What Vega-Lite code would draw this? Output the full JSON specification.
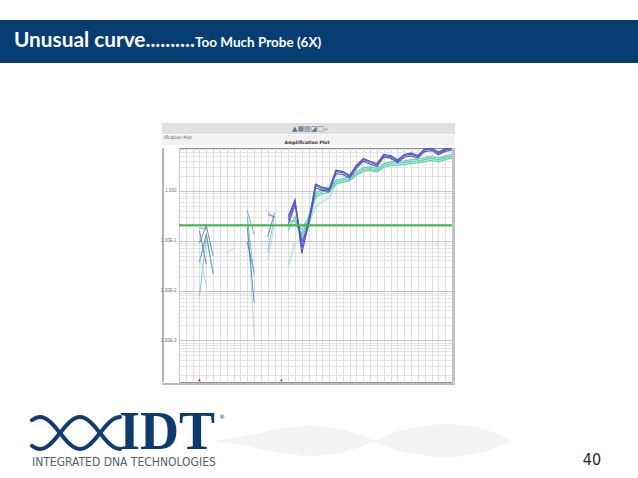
{
  "$schema": "https://vega.github.io/schema/vega-lite/v6.json",
  "background": "white",
  "padding": {"top": 20, "left": 0, "right": 0, "bottom": 0},
  "spacing": 0,
  "bounds": "full",
  "config": {"view": {"stroke": null}, "concat": {"spacing": 0}},
  "datasets": {
    "curves": [
      {"s":"a1","g":"np","c":3,"v":0.18},{"s":"a1","g":"np","c":4,"v":0.172},
      {"s":"a2","g":"nb","c":3,"v":0.157},{"s":"a2","g":"nb","c":4,"v":0.034},
      {"s":"a3","g":"nb","c":3,"v":0.037},{"s":"a3","g":"nb","c":4,"v":0.136},{"s":"a3","g":"nb","c":5,"v":0.0214},
      {"s":"a4","g":"nt","c":3,"v":0.0077},{"s":"a4","g":"nt","c":4,"v":0.119},{"s":"a4","g":"nt","c":5,"v":0.0235},
      {"s":"a5","g":"ntl","c":3,"v":0.05},{"s":"a5","g":"ntl","c":4,"v":0.0128},
      {"s":"a6","g":"nb","c":3,"v":0.09},{"s":"a6","g":"nb","c":4,"v":0.2},{"s":"a6","g":"nb","c":5,"v":0.05},
      {"s":"b1","g":"ntl","c":7,"v":0.059},{"s":"b1","g":"ntl","c":8,"v":0.068},
      {"s":"c1","g":"ntl","c":10,"v":0.434},{"s":"c1","g":"ntl","c":11,"v":0.00115},
      {"s":"c2","g":"np","c":10,"v":0.396},{"s":"c2","g":"np","c":11,"v":0.136},
      {"s":"c3","g":"nb","c":10,"v":0.189},{"s":"c3","g":"nb","c":11,"v":0.00585},
      {"s":"c4","g":"nb","c":10,"v":0.094},{"s":"c4","g":"nb","c":11,"v":0.0235},
      {"s":"c5","g":"nt","c":10,"v":0.3},{"s":"c5","g":"nt","c":11,"v":0.02},
      {"s":"d1","g":"np","c":13,"v":0.33},{"s":"d1","g":"np","c":14,"v":0.3},
      {"s":"d2","g":"nt","c":13,"v":0.059},{"s":"d2","g":"nt","c":14,"v":0.31},
      {"s":"d3","g":"nb","c":13,"v":0.12},{"s":"d3","g":"nb","c":14,"v":0.36},
      {"s":"d4","g":"ntl","c":13,"v":0.04},{"s":"d4","g":"ntl","c":14,"v":0.2},
      {"s":"d5","g":"np","c":13,"v":0.37},{"s":"d5","g":"np","c":14,"v":0.29},

      {"s":"vicl","g":"vicl","c":16,"v":0.03},{"s":"vicl","g":"vicl","c":17,"v":0.094},{"s":"vicl","g":"vicl","c":18,"v":0.104},{"s":"vicl","g":"vicl","c":19,"v":0.22},{"s":"vicl","g":"vicl","c":20,"v":0.48},{"s":"vicl","g":"vicl","c":21,"v":0.6},{"s":"vicl","g":"vicl","c":22,"v":0.72},{"s":"vicl","g":"vicl","c":23,"v":1.32},{"s":"vicl","g":"vicl","c":24,"v":1.52},{"s":"vicl","g":"vicl","c":25,"v":1.7},{"s":"vicl","g":"vicl","c":26,"v":2.1},{"s":"vicl","g":"vicl","c":27,"v":2.55},{"s":"vicl","g":"vicl","c":28,"v":2.7},{"s":"vicl","g":"vicl","c":29,"v":2.5},{"s":"vicl","g":"vicl","c":30,"v":3.1},{"s":"vicl","g":"vicl","c":31,"v":3.4},{"s":"vicl","g":"vicl","c":32,"v":3.5},{"s":"vicl","g":"vicl","c":33,"v":3.6},{"s":"vicl","g":"vicl","c":34,"v":3.75},{"s":"vicl","g":"vicl","c":35,"v":3.9},{"s":"vicl","g":"vicl","c":36,"v":4.1},{"s":"vicl","g":"vicl","c":37,"v":4.35},{"s":"vicl","g":"vicl","c":38,"v":4.05},{"s":"vicl","g":"vicl","c":39,"v":4.5},{"s":"vicl","g":"vicl","c":40,"v":4.85},

      {"s":"vic2","g":"vic","c":16,"v":0.16},{"s":"vic2","g":"vic","c":17,"v":0.3},{"s":"vic2","g":"vic","c":18,"v":0.12},{"s":"vic2","g":"vic","c":19,"v":0.23},{"s":"vic2","g":"vic","c":20,"v":0.74},{"s":"vic2","g":"vic","c":21,"v":0.87},{"s":"vic2","g":"vic","c":22,"v":0.94},{"s":"vic2","g":"vic","c":23,"v":1.38},{"s":"vic2","g":"vic","c":24,"v":1.49},{"s":"vic2","g":"vic","c":25,"v":1.6},{"s":"vic2","g":"vic","c":26,"v":2.02},{"s":"vic2","g":"vic","c":27,"v":2.43},{"s":"vic2","g":"vic","c":28,"v":2.55},{"s":"vic2","g":"vic","c":29,"v":2.36},{"s":"vic2","g":"vic","c":30,"v":2.96},{"s":"vic2","g":"vic","c":31,"v":3.2},{"s":"vic2","g":"vic","c":32,"v":3.28},{"s":"vic2","g":"vic","c":33,"v":3.35},{"s":"vic2","g":"vic","c":34,"v":3.5},{"s":"vic2","g":"vic","c":35,"v":3.62},{"s":"vic2","g":"vic","c":36,"v":3.85},{"s":"vic2","g":"vic","c":37,"v":4.08},{"s":"vic2","g":"vic","c":38,"v":3.8},{"s":"vic2","g":"vic","c":39,"v":4.2},{"s":"vic2","g":"vic","c":40,"v":4.52},

      {"s":"vic1","g":"vic","c":16,"v":0.193},{"s":"vic1","g":"vic","c":17,"v":0.212},{"s":"vic1","g":"vic","c":18,"v":0.14},{"s":"vic1","g":"vic","c":19,"v":0.258},{"s":"vic1","g":"vic","c":20,"v":0.817},{"s":"vic1","g":"vic","c":21,"v":0.955},{"s":"vic1","g":"vic","c":22,"v":1.03},{"s":"vic1","g":"vic","c":23,"v":1.51},{"s":"vic1","g":"vic","c":24,"v":1.63},{"s":"vic1","g":"vic","c":25,"v":1.76},{"s":"vic1","g":"vic","c":26,"v":2.22},{"s":"vic1","g":"vic","c":27,"v":2.67},{"s":"vic1","g":"vic","c":28,"v":2.79},{"s":"vic1","g":"vic","c":29,"v":2.58},{"s":"vic1","g":"vic","c":30,"v":3.25},{"s":"vic1","g":"vic","c":31,"v":3.52},{"s":"vic1","g":"vic","c":32,"v":3.6},{"s":"vic1","g":"vic","c":33,"v":3.68},{"s":"vic1","g":"vic","c":34,"v":3.85},{"s":"vic1","g":"vic","c":35,"v":3.98},{"s":"vic1","g":"vic","c":36,"v":4.23},{"s":"vic1","g":"vic","c":37,"v":4.49},{"s":"vic1","g":"vic","c":38,"v":4.17},{"s":"vic1","g":"vic","c":39,"v":4.63},{"s":"vic1","g":"vic","c":40,"v":4.97},

      {"s":"vic3","g":"vic","c":16,"v":0.24},{"s":"vic3","g":"vic","c":17,"v":0.25},{"s":"vic3","g":"vic","c":18,"v":0.17},{"s":"vic3","g":"vic","c":19,"v":0.3},{"s":"vic3","g":"vic","c":20,"v":0.9},{"s":"vic3","g":"vic","c":21,"v":1.04},{"s":"vic3","g":"vic","c":22,"v":1.12},{"s":"vic3","g":"vic","c":23,"v":1.64},{"s":"vic3","g":"vic","c":24,"v":1.76},{"s":"vic3","g":"vic","c":25,"v":1.9},{"s":"vic3","g":"vic","c":26,"v":2.4},{"s":"vic3","g":"vic","c":27,"v":2.88},{"s":"vic3","g":"vic","c":28,"v":3.0},{"s":"vic3","g":"vic","c":29,"v":2.8},{"s":"vic3","g":"vic","c":30,"v":3.5},{"s":"vic3","g":"vic","c":31,"v":3.8},{"s":"vic3","g":"vic","c":32,"v":3.88},{"s":"vic3","g":"vic","c":33,"v":3.97},{"s":"vic3","g":"vic","c":34,"v":4.15},{"s":"vic3","g":"vic","c":35,"v":4.3},{"s":"vic3","g":"vic","c":36,"v":4.55},{"s":"vic3","g":"vic","c":37,"v":4.85},{"s":"vic3","g":"vic","c":38,"v":4.5},{"s":"vic3","g":"vic","c":39,"v":5.0},{"s":"vic3","g":"vic","c":40,"v":5.35},

      {"s":"fam2","g":"fam","c":16,"v":0.21},{"s":"fam2","g":"fam","c":17,"v":0.52},{"s":"fam2","g":"fam","c":18,"v":0.095},{"s":"fam2","g":"fam","c":19,"v":0.2},{"s":"fam2","g":"fam","c":20,"v":1.15},{"s":"fam2","g":"fam","c":21,"v":1.02},{"s":"fam2","g":"fam","c":22,"v":0.97},{"s":"fam2","g":"fam","c":23,"v":2.2},{"s":"fam2","g":"fam","c":24,"v":2.12},{"s":"fam2","g":"fam","c":25,"v":1.8},{"s":"fam2","g":"fam","c":26,"v":2.8},{"s":"fam2","g":"fam","c":27,"v":3.9},{"s":"fam2","g":"fam","c":28,"v":3.4},{"s":"fam2","g":"fam","c":29,"v":3.05},{"s":"fam2","g":"fam","c":30,"v":4.7},{"s":"fam2","g":"fam","c":31,"v":4.5},{"s":"fam2","g":"fam","c":32,"v":3.7},{"s":"fam2","g":"fam","c":33,"v":4.7},{"s":"fam2","g":"fam","c":34,"v":5.0},{"s":"fam2","g":"fam","c":35,"v":4.5},{"s":"fam2","g":"fam","c":36,"v":6.1},{"s":"fam2","g":"fam","c":37,"v":6.4},{"s":"fam2","g":"fam","c":38,"v":5.25},{"s":"fam2","g":"fam","c":39,"v":6.15},{"s":"fam2","g":"fam","c":40,"v":6.5},

      {"s":"fam1","g":"fam","c":16,"v":0.255},{"s":"fam1","g":"fam","c":17,"v":0.611},{"s":"fam1","g":"fam","c":18,"v":0.0557},{"s":"fam1","g":"fam","c":19,"v":0.222},{"s":"fam1","g":"fam","c":20,"v":1.28},{"s":"fam1","g":"fam","c":21,"v":1.11},{"s":"fam1","g":"fam","c":22,"v":1.04},{"s":"fam1","g":"fam","c":23,"v":2.43},{"s":"fam1","g":"fam","c":24,"v":2.32},{"s":"fam1","g":"fam","c":25,"v":1.93},{"s":"fam1","g":"fam","c":26,"v":3.06},{"s":"fam1","g":"fam","c":27,"v":4.23},{"s":"fam1","g":"fam","c":28,"v":3.68},{"s":"fam1","g":"fam","c":29,"v":3.28},{"s":"fam1","g":"fam","c":30,"v":5.08},{"s":"fam1","g":"fam","c":31,"v":4.85},{"s":"fam1","g":"fam","c":32,"v":3.95},{"s":"fam1","g":"fam","c":33,"v":5.08},{"s":"fam1","g":"fam","c":34,"v":5.44},{"s":"fam1","g":"fam","c":35,"v":4.85},{"s":"fam1","g":"fam","c":36,"v":6.6},{"s":"fam1","g":"fam","c":37,"v":6.9},{"s":"fam1","g":"fam","c":38,"v":5.65},{"s":"fam1","g":"fam","c":39,"v":6.6},{"s":"fam1","g":"fam","c":40,"v":6.95},

      {"s":"fam3","g":"fam","c":16,"v":0.3},{"s":"fam3","g":"fam","c":17,"v":0.66},{"s":"fam3","g":"fam","c":18,"v":0.072},{"s":"fam3","g":"fam","c":19,"v":0.25},{"s":"fam3","g":"fam","c":20,"v":1.36},{"s":"fam3","g":"fam","c":21,"v":1.18},{"s":"fam3","g":"fam","c":22,"v":1.1},{"s":"fam3","g":"fam","c":23,"v":2.58},{"s":"fam3","g":"fam","c":24,"v":2.45},{"s":"fam3","g":"fam","c":25,"v":2.05},{"s":"fam3","g":"fam","c":26,"v":3.25},{"s":"fam3","g":"fam","c":27,"v":4.45},{"s":"fam3","g":"fam","c":28,"v":3.9},{"s":"fam3","g":"fam","c":29,"v":3.5},{"s":"fam3","g":"fam","c":30,"v":5.35},{"s":"fam3","g":"fam","c":31,"v":5.1},{"s":"fam3","g":"fam","c":32,"v":4.2},{"s":"fam3","g":"fam","c":33,"v":5.35},{"s":"fam3","g":"fam","c":34,"v":5.75},{"s":"fam3","g":"fam","c":35,"v":5.1},{"s":"fam3","g":"fam","c":36,"v":6.9},{"s":"fam3","g":"fam","c":37,"v":7.1},{"s":"fam3","g":"fam","c":38,"v":5.95},{"s":"fam3","g":"fam","c":39,"v":6.9},{"s":"fam3","g":"fam","c":40,"v":7.1}
    ],
    "helix": [
      {"k":"a","x":32,"y":419.1},{"k":"a","x":36,"y":416.8},{"k":"a","x":40,"y":416},{"k":"a","x":45,"y":417.2},{"k":"a","x":50,"y":420.7},{"k":"a","x":55,"y":425.9},{"k":"a","x":60,"y":432},{"k":"a","x":65,"y":438.1},{"k":"a","x":70,"y":443.3},{"k":"a","x":75,"y":446.8},{"k":"a","x":80,"y":448},{"k":"a","x":85,"y":446.8},{"k":"a","x":90,"y":443.3},{"k":"a","x":95,"y":438.1},{"k":"a","x":100,"y":432},{"k":"a","x":105,"y":425.9},{"k":"a","x":110,"y":420.7},{"k":"a","x":115,"y":417.2},{"k":"a","x":120,"y":416},
      {"k":"b","x":32,"y":444.9},{"k":"b","x":36,"y":447.2},{"k":"b","x":40,"y":448},{"k":"b","x":45,"y":446.8},{"k":"b","x":50,"y":443.3},{"k":"b","x":55,"y":438.1},{"k":"b","x":60,"y":432},{"k":"b","x":65,"y":425.9},{"k":"b","x":70,"y":420.7},{"k":"b","x":75,"y":417.2},{"k":"b","x":80,"y":416},{"k":"b","x":85,"y":417.2},{"k":"b","x":90,"y":420.7},{"k":"b","x":95,"y":425.9},{"k":"b","x":100,"y":432},{"k":"b","x":105,"y":438.1},{"k":"b","x":110,"y":443.3},{"k":"b","x":115,"y":446.8},{"k":"b","x":120,"y":448}
    ],
    "pattern": [
      {"x":215,"lo":441,"hi":440},{"x":235,"lo":443,"hi":437},{"x":255,"lo":447,"hi":433},{"x":280,"lo":452,"hi":428},{"x":310,"lo":455,"hi":425},{"x":340,"lo":452,"hi":428},{"x":360,"lo":446,"hi":434},{"x":375,"lo":441,"hi":439},{"x":390,"lo":447,"hi":433},{"x":415,"lo":453,"hi":427},{"x":445,"lo":456,"hi":423},{"x":475,"lo":453,"hi":426},{"x":495,"lo":447,"hi":432},{"x":510,"lo":441,"hi":439}
    ]
  },
  "vconcat": [
    {
      "width": 638,
      "height": 43,
      "view": {"fill": "#063e72", "stroke": null},
      "data": {"values": [{}]},
      "layer": [
        {
          "mark": {"type": "text", "text": "Unusual curve..........", "font": "Lato", "fontWeight": "bold", "fontSize": 20.8, "color": "white", "align": "left", "baseline": "alphabetic"},
          "encoding": {"x": {"value": 14}, "y": {"value": 27}}
        },
        {
          "mark": {"type": "text", "text": "Too Much Probe (6X)", "font": "Lato", "fontWeight": "bold", "fontSize": 13.5, "color": "white", "align": "left", "baseline": "alphabetic"},
          "encoding": {"x": {"value": 195}, "y": {"value": 27}}
        }
      ]
    },
    {"width": 638, "height": 60, "data": {"values": []}, "mark": "point"},
    {
      "spacing": 0,
      "bounds": "flush",
      "hconcat": [
        {"width": 162, "height": 11, "data": {"values": []}, "mark": "point"},
        {
          "width": 293,
          "height": 11,
          "view": {"fill": "#e1e1e1"},
          "data": {"values": [{}]},
          "mark": {"type": "text", "text": "▲▦▧◪□⌕", "font": "DejaVu Sans", "fontSize": 7, "color": "#5b6f88", "align": "left", "baseline": "alphabetic"},
          "encoding": {"x": {"value": 130}, "y": {"value": 8}}
        },
        {"width": 183, "height": 11, "data": {"values": []}, "mark": "point"}
      ]
    },
    {
      "spacing": 0,
      "bounds": "flush",
      "hconcat": [
        {"width": 162, "height": 10, "data": {"values": []}, "mark": "point"},
        {
          "width": 293,
          "height": 10,
          "view": {"fill": "#f2f2f2"},
          "data": {"values": [{}]},
          "layer": [
            {
              "mark": {"type": "text", "text": "ification Plot", "font": "DejaVu Sans", "fontSize": 4.5, "color": "#555555", "align": "left", "baseline": "middle"},
              "encoding": {"x": {"value": 2}, "y": {"value": 2.5}}
            },
            {
              "mark": {"type": "text", "text": "Amplification Plot", "font": "DejaVu Sans", "fontWeight": "bold", "fontSize": 4.5, "color": "#333333", "align": "center", "baseline": "middle"},
              "encoding": {"x": {"value": 145}, "y": {"value": 7.5}}
            }
          ]
        },
        {"width": 183, "height": 10, "data": {"values": []}, "mark": "point"}
      ]
    },
    {
      "spacing": 0,
      "bounds": "flush",
      "hconcat": [
        {"width": 162, "height": 234, "data": {"values": []}, "mark": "point"},
        {"width": 2, "height": 234, "view": {"fill": "#b3b3b3"}, "data": {"values": []}, "mark": "point"},
        {"width": 15, "height": 234, "view": {"fill": "#ffffff"}, "data": {"values": []}, "mark": "point"},
        {
          "width": 273,
          "height": 234,
          "view": {"fill": "#ffffff", "stroke": "#8e8e8e", "strokeWidth": 1},
          "data": {"name": "curves"},
          "encoding": {
            "x": {
              "field": "c", "type": "quantitative",
              "scale": {"domain": [0, 40], "nice": false, "zero": false},
              "axis": {
                "values": [0,1,2,3,4,5,6,7,8,9,10,11,12,13,14,15,16,17,18,19,20,21,22,23,24,25,26,27,28,29,30,31,32,33,34,35,36,37,38,39,40],
                "grid": true, "gridColor": "#d5d5d5", "gridWidth": 0.8,
                "labels": false, "ticks": false, "domain": false, "title": null
              }
            },
            "y": {
              "field": "v", "type": "quantitative",
              "scale": {"type": "log", "domain": [0.0001466, 7.2], "nice": false},
              "axis": {
                "values": [0.0002,0.0003,0.0004,0.0005,0.0006,0.0007,0.0008,0.0009,0.001,0.002,0.003,0.004,0.005,0.006,0.007,0.008,0.009,0.01,0.02,0.03,0.04,0.05,0.06,0.07,0.08,0.09,0.1,0.2,0.3,0.4,0.5,0.6,0.7,0.8,0.9,1,2,3,4,5,6,7],
                "grid": true,
                "gridColor": {"condition": {"test": "datum.value === 1 || datum.value === 0.1 || datum.value === 0.01 || datum.value === 0.001", "value": "#b9b9b9"}, "value": "#dedede"},
                "gridWidth": 0.8,
                "labelExpr": "datum.value === 1 ? '1.000' : datum.value === 0.1 ? '1.00E-1' : datum.value === 0.01 ? '1.00E-2' : datum.value === 0.001 ? '1.00E-3' : ''",
                "labelFontSize": 4.5, "labelColor": "#707070", "labelPadding": 3, "labelOverlap": false,
                "ticks": false, "domain": false, "title": null
              }
            }
          },
          "layer": [
            {
              "transform": [{"filter": "indexof(['np','nb','nt','ntl'], datum.g) >= 0"}],
              "mark": {"type": "line", "strokeWidth": 0.8},
              "encoding": {
                "detail": {"field": "s"},
                "color": {
                  "field": "g", "type": "nominal", "legend": null,
                  "scale": {
                    "domain": ["np","nb","nt","ntl","vicl","vic","fam"],
                    "range": ["#7d7dd6","#3f74ad","#6cb3c9","#a7d2dc","#a6e3d3","#5fcfae","#5757c2"]
                  }
                }
              }
            },
            {
              "transform": [{"filter": "indexof(['vicl','vic','fam'], datum.g) >= 0"}],
              "mark": {"type": "line", "strokeWidth": 1.2},
              "encoding": {
                "detail": {"field": "s"},
                "color": {"field": "g", "type": "nominal", "legend": null}
              }
            },
            {
              "data": {"values": [{"c": 0, "v": 0.203}, {"c": 40, "v": 0.203}]},
              "mark": {"type": "line", "color": "#3fb944", "strokeWidth": 2},
              "encoding": {}
            },
            {
              "data": {"values": [{"c": 3}, {"c": 15}]},
              "mark": {"type": "point", "shape": "triangle-up", "filled": true, "color": "#e02020", "size": 8, "opacity": 1, "clip": false},
              "encoding": {"y": {"value": 232}}
            }
          ]
        },
        {"width": 3, "height": 234, "view": {"fill": "#c2c2c2"}, "data": {"values": []}, "mark": "point"},
        {"width": 183, "height": 234, "data": {"values": []}, "mark": "point"}
      ]
    },
    {
      "spacing": 0,
      "bounds": "flush",
      "hconcat": [
        {"width": 162, "height": 2, "data": {"values": []}, "mark": "point"},
        {"width": 293, "height": 2, "view": {"fill": "#bdbdbd"}, "data": {"values": []}, "mark": "point"},
        {"width": 183, "height": 2, "data": {"values": []}, "mark": "point"}
      ]
    },
    {
      "width": 638,
      "height": 94,
      "layer": [
        {
          "data": {"name": "pattern"},
          "mark": {"type": "area", "color": "#f3f3f3", "interpolate": "monotone"},
          "encoding": {
            "x": {"field": "x", "type": "quantitative", "scale": {"domain": [0, 638], "nice": false, "zero": false}, "axis": null},
            "y": {"field": "hi", "type": "quantitative", "scale": {"domain": [384, 478], "reverse": true, "nice": false, "zero": false}, "axis": null},
            "y2": {"field": "lo"}
          }
        },
        {
          "data": {"name": "helix"},
          "mark": {"type": "line", "color": "#123b6c", "strokeWidth": 4, "strokeCap": "round", "interpolate": "monotone"},
          "encoding": {
            "x": {"field": "x", "type": "quantitative", "axis": null},
            "y": {"field": "y", "type": "quantitative", "axis": null},
            "detail": {"field": "k"}
          }
        },
        {
          "data": {"values": [{}]},
          "mark": {"type": "text", "text": "IDT", "font": "Liberation Serif", "fontWeight": "bold", "fontSize": 54, "color": "#0e3b6b", "align": "left", "baseline": "alphabetic"},
          "encoding": {"x": {"value": 119}, "y": {"value": 64}}
        },
        {
          "data": {"values": [{}]},
          "mark": {"type": "text", "text": "®", "font": "DejaVu Sans", "fontSize": 6, "color": "#0e3b6b", "align": "left", "baseline": "middle"},
          "encoding": {"x": {"value": 219}, "y": {"value": 32}}
        },
        {
          "data": {"values": [{}]},
          "mark": {"type": "text", "text": "INTEGRATED DNA TECHNOLOGIES", "font": "Liberation Sans Narrow, DejaVu Sans Condensed, Roboto", "fontSize": 12, "color": "#56616d", "align": "left", "baseline": "alphabetic"},
          "encoding": {"x": {"value": 32}, "y": {"value": 81}}
        },
        {
          "data": {"values": [{}]},
          "mark": {"type": "text", "text": "40", "font": "Liberation Sans Narrow, DejaVu Sans Condensed, Roboto", "fontSize": 16, "color": "#1f1f1f", "align": "center", "baseline": "alphabetic"},
          "encoding": {"x": {"value": 592}, "y": {"value": 80}}
        }
      ]
    }
  ]
}
